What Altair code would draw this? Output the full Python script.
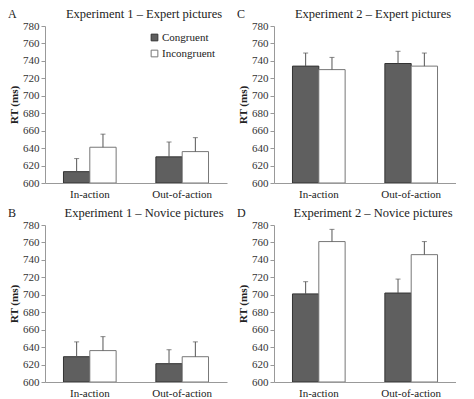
import altair as alt
import pandas as pd

groups = ["In-action", "Out-of-action"]
conds = ["Congruent", "Incongruent"]

# panel order: A, B, C, D
panel_titles = [
    "Experiment 1 – Expert pictures",
    "Experiment 1 – Novice pictures",
    "Experiment 2 – Expert pictures",
    "Experiment 2 – Novice pictures",
]
panel_letters = ["A", "B", "C", "D"]

# means: [In-action Cong, In-action Incong, Out Cong, Out Incong]
means_A = [613, 641, 630, 636]
means_B = [629, 636, 621, 629]
means_C = [734, 730, 737, 734]
means_D = [701, 761, 702, 746]
# error bar tops
errtop_A = [628, 656, 647, 652]
errtop_B = [646, 652, 637, 646]
errtop_C = [749, 744, 751, 749]
errtop_D = [715, 775, 718, 761]
y_ticks = [600, 620, 640, 660, 680, 700, 720, 740, 760, 780]

means = [means_A, means_B, means_C, means_D]
errtops = [errtop_A, errtop_B, errtop_C, errtop_D]

FONT = "Liberation Serif"
W, H = 182, 157

XAXIS = alt.Axis(title=None, labelAngle=0, ticks=False, domainColor="#999",
                 labelFont=FONT, labelFontSize=11, labelColor="#222", labelPadding=5)
YAXIS = alt.Axis(title="RT (ms)", values=y_ticks, grid=False,
                 domainColor="#999", tickColor="#999", tickSize=4,
                 labelFont=FONT, labelFontSize=11, labelColor="#333",
                 labelOverlap=False,
                 titleFont=FONT, titleFontSize=11, titleFontWeight="bold",
                 titleColor="#222", titlePadding=3, labelPadding=2)


def make_df(i):
    rows = []
    k = 0
    for g in groups:
        for c in conds:
            rows.append({"group": g, "cond": c, "value": means[i][k], "top": errtops[i][k]})
            k += 1
    return pd.DataFrame(rows)


def panel(i, legend=False):
    df = make_df(i)
    base = alt.Chart(df)
    xscale = alt.Scale(domain=groups, paddingInner=0.43, paddingOuter=0.2)
    yscale = alt.Scale(domain=[600, 780], nice=False, zero=False)
    xo = alt.XOffset("cond:N", sort=conds, scale=alt.Scale(domain=conds, paddingInner=0, paddingOuter=0))
    x = alt.X("group:N", scale=xscale, axis=XAXIS)
    if legend:
        leg = alt.Legend(title=None, orient="none", legendX=104, legendY=6,
                         symbolType="square", symbolSize=45,
                         symbolStrokeColor="#333", symbolStrokeWidth=1,
                         labelFont=FONT, labelFontSize=11, labelColor="#222",
                         rowPadding=4, labelOffset=2)
    else:
        leg = None
    color = alt.Color("cond:N", scale=alt.Scale(domain=conds, range=["#5f5f5f", "#ffffff"]),
                      legend=leg)
    stroke = alt.Stroke("cond:N", scale=alt.Scale(domain=conds, range=["#333333", "#777777"]),
                        legend=None)
    bars = base.mark_bar(strokeWidth=1, clip=True).encode(
        x=x, xOffset=xo, y=alt.Y("value:Q", scale=yscale, axis=YAXIS),
        y2=alt.datum(600), color=color, stroke=stroke)
    err = base.mark_rule(color="#555", strokeWidth=1).encode(
        x=x, xOffset=xo,
        y=alt.Y("value:Q", scale=yscale, axis=YAXIS), y2="top:Q")
    cap = base.mark_tick(color="#555", thickness=1, size=5).encode(
        x=x, xOffset=xo,
        y=alt.Y("top:Q", scale=yscale, axis=YAXIS))
    labels = alt.Chart(pd.DataFrame({"t": [panel_letters[i]]})).mark_text(
        font=FONT, fontSize=12, color="#222", align="left", baseline="middle").encode(
        text="t:N", x=alt.value(-37), y=alt.value(-12))
    ttl = alt.Chart(pd.DataFrame({"t": [panel_titles[i]]})).mark_text(
        font=FONT, fontSize=12.5, color="#222", align="center", baseline="middle").encode(
        text="t:N", x=alt.value(W / 2 + 8), y=alt.value(-12))
    layer = alt.layer(bars, err, cap, labels, ttl).properties(width=W, height=H)
    return layer


row1 = alt.hconcat(panel(0, legend=True), panel(2), spacing=10).resolve_scale(color="independent", stroke="independent")
row2 = alt.hconcat(panel(1), panel(3), spacing=10).resolve_scale(color="independent", stroke="independent")
chart = alt.vconcat(row1, row2, spacing=8).resolve_scale(
    color="independent", stroke="independent").properties(
    padding={"left": 0, "top": 0, "right": 0, "bottom": 0}
).configure_view(stroke=None)

chart.save("out.html", embed_options={"renderer": "svg", "actions": False})
